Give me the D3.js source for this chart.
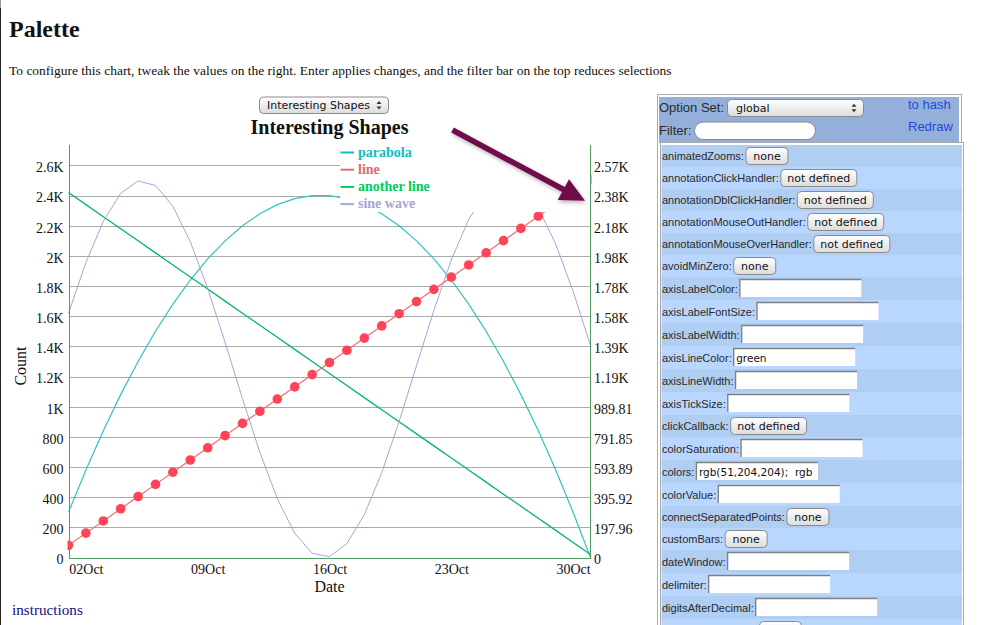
<!DOCTYPE html>
<html>
<head>
<meta charset="utf-8">
<script src="https://cdnjs.cloudflare.com/ajax/libs/d3/7.8.5/d3.min.js"></script>
<style>
html,body{margin:0;padding:0;background:#fff;overflow:hidden;width:984px;height:625px}
svg{display:block}
text{font-family:"Liberation Serif",serif;fill:#111}
.axis path,.axis line{shape-rendering:crispEdges}
.sans{font-family:"Liberation Sans",sans-serif;fill:#2a2a2a}
.ui{font-family:"DejaVu Sans",sans-serif;fill:#111;font-size:11px}
</style>
</head>
<body>
<svg id="chart" width="984" height="625"></svg>
<script>
const dates = ["2006-10-01","2006-10-02","2006-10-03","2006-10-04","2006-10-05","2006-10-06","2006-10-07","2006-10-08","2006-10-09","2006-10-10","2006-10-11","2006-10-12","2006-10-13","2006-10-14","2006-10-15","2006-10-16","2006-10-17","2006-10-18","2006-10-19","2006-10-20","2006-10-21","2006-10-22","2006-10-23","2006-10-24","2006-10-25","2006-10-26","2006-10-27","2006-10-28","2006-10-29","2006-10-30","2006-10-31"];
const parabola = [300,580,840,1080,1300,1500,1680,1840,1980,2100,2200,2280,2340,2380,2400,2400,2380,2340,2280,2200,2100,1980,1840,1680,1500,1300,1080,840,580,300,0];
const lineSeries = [80,160,240,320,400,480,560,640,720,800,880,960,1040,1120,1200,1280,1360,1440,1520,1600,1680,1760,1840,1920,2000,2080,2160,2240,2320,2400,2480];
const anotherLine = [2420,2340,2260,2180,2100,2020,1940,1860,1780,1700,1620,1540,1460,1380,1300,1220,1140,1060,980,900,820,740,660,580,500,420,340,260,180,100,20];
const sineWave = [1619,1956,2229,2415,2497,2467,2329,2094,1784,1426,1053,697,390,161,28,5,93,284,562,901,1271,1639,1973,2242,2422,2498,2462,2318,2079,1765,1406];
const seriesNames = ["parabola","line","another line","sine wave"];
const leftTicks = [0,200,400,600,800,1000,1200,1400,1600,1800,2000,2200,2400,2600];
const leftTickLabels = ["0","200","400","600","800","1K","1.2K","1.4K","1.6K","1.8K","2K","2.2K","2.4K","2.6K"];
const rightTicks = [0,197.96,395.92,593.89,791.85,989.81,1187.77,1385.74,1583.7,1781.66,1979.62,2177.59,2375.55,2573.51];
const rightTickLabels = ["0","197.96","395.92","593.89","791.85","989.81","1.19K","1.39K","1.58K","1.78K","1.98K","2.18K","2.38K","2.57K"];
const xTicks = ["2006-10-02","2006-10-09","2006-10-16","2006-10-23","2006-10-30"];
const xTickLabels = ["02Oct","09Oct","16Oct","23Oct","30Oct"];
const optionNames = ["animatedZooms","annotationClickHandler","annotationDblClickHandler","annotationMouseOutHandler","annotationMouseOverHandler","avoidMinZero","axisLabelColor","axisLabelFontSize","axisLabelWidth","axisLineColor","axisLineWidth","axisTickSize","clickCallback","colorSaturation","colors","colorValue","connectSeparatedPoints","customBars","dateWindow","delimiter","digitsAfterDecimal","displayAnnotations"];
const optionKinds = ["b","b","b","b","b","b","i","i","i","i","i","i","b","i","i","i","b","b","i","i","i","b"];
const optionValues = ["none","not defined","not defined","not defined","not defined","none","","","","green","","","not defined","","rgb(51,204,204);  rgb","","none","none","","","","none"];

const colors = {parabola:"#2fc4c0", line:"#fb6a72", dot:"#ff4458", another:"#00b868", sine:"#a5a5d6"};
const legendColors = ["#10bcc0","#e46a70","#00cc60","#a6a6d8"];
const parseDate = d3.utcParse("%Y-%m-%d");

const L=68.5,R=590.5,T=144,B=557.5;
const x = d3.scaleUtc().domain([parseDate(dates[0]),parseDate(dates[dates.length-1])]).range([L,R]);
const y = d3.scaleLinear().domain([0,2742]).range([B,T]);
const y2 = d3.scaleLinear().domain([0,2714]).range([B,T]);

const svg = d3.select("#chart");
const defs = svg.append("defs");
defs.append("clipPath").attr("id","plotclip").append("rect").attr("x",67.5).attr("y",T).attr("width",524).attr("height",B-T+1);
const f = defs.append("filter").attr("id","shadow").attr("x","-20%").attr("y","-20%").attr("width","150%").attr("height","150%");
f.append("feDropShadow").attr("dx",1).attr("dy",2).attr("stdDeviation",2).attr("flood-color","#000").attr("flood-opacity",0.3);
const bg = defs.append("linearGradient").attr("id","btn").attr("x1",0).attr("y1",0).attr("x2",0).attr("y2",1);
bg.append("stop").attr("offset",0).attr("stop-color","#ffffff");
bg.append("stop").attr("offset",1).attr("stop-color","#dcdcdc");

// page
svg.append("line").attr("x1",0.5).attr("x2",0.5).attr("y1",0).attr("y2",8).attr("stroke","#999");
svg.append("line").attr("x1",0.5).attr("x2",0.5).attr("y1",8).attr("y2",625).attr("stroke","#222");
svg.append("text").attr("x",9).attr("y",37).attr("font-size",24).attr("font-weight","bold").attr("fill","#000").text("Palette");
svg.append("text").attr("x",9).attr("y",75).attr("font-size",13.47).text("To configure this chart, tweak the values on the right. Enter applies changes, and the filter bar on the top reduces selections");
svg.append("text").attr("x",12).attr("y",615).attr("font-size",15.2).style("fill","#101080").text("instructions");

function selectBox(g,x0,y0,w,h,label,tx){
  g.append("rect").attr("x",x0+.5).attr("y",y0+.5).attr("width",w).attr("height",h).attr("rx",4).attr("fill","url(#btn)").attr("stroke","#8a8a8a");
  g.append("text").attr("class","ui").attr("x",x0+tx).attr("y",y0+h/2+4.5).text(label);
  const ax=x0+w-9, ay=y0+h/2+.5;
  g.append("path").attr("d",`M${ax-2.5},${ay-1.2}L${ax},${ay-4.2}L${ax+2.5},${ay-1.2}ZM${ax-2.5},${ay+1.2}L${ax},${ay+4.2}L${ax+2.5},${ay+1.2}Z`).attr("fill","#333");
}
selectBox(svg,259,96.5,129,16.5,"Interesting Shapes",8);
svg.append("text").attr("x",329.5).attr("y",134).attr("text-anchor","middle").attr("font-size",20).attr("font-weight","bold").attr("fill","#000").text("Interesting Shapes");

// grid
const grid = svg.append("g").attr("class","axis").attr("transform",`translate(${L},0)`)
  .call(d3.axisRight(y).tickValues(leftTicks.slice(1)).tickSize(R-L).tickFormat(""));
grid.select(".domain").remove();
grid.selectAll("line").attr("stroke","#aaaaaa");

// series
const marks = svg.append("g").attr("clip-path","url(#plotclip)");
const pts = dates.map(parseDate);
const lineGen = sc => d3.line().x((d,i)=>x(pts[i])).y(d=>sc(d));
marks.append("path").datum(parabola).attr("d",lineGen(y)).attr("fill","none").attr("stroke",colors.parabola).attr("stroke-width",1.2);
marks.append("path").datum(anotherLine).attr("d",lineGen(y)).attr("fill","none").attr("stroke",colors.another).attr("stroke-width",1.3);
marks.append("path").datum(sineWave).attr("d",lineGen(y)).attr("fill","none").attr("stroke",colors.sine).attr("stroke-width",1);
marks.append("path").datum(lineSeries).attr("d",lineGen(y2)).attr("fill","none").attr("stroke",colors.line).attr("stroke-width",1.2);
marks.selectAll("circle").data(lineSeries).join("circle").attr("cx",(d,i)=>x(pts[i])).attr("cy",d=>y2(d)).attr("r",4.8).attr("fill",colors.dot);

// legend
const lg = svg.append("g");
lg.append("rect").attr("x",340).attr("y",144).attr("width",250).attr("height",68).attr("fill","#fff");
seriesNames.forEach((n,i)=>{
  const yy=152.5+i*17.2;
  lg.append("line").attr("x1",340.5).attr("x2",354).attr("y1",yy).attr("y2",yy).attr("stroke",legendColors[i]).attr("stroke-width",2);
  lg.append("text").attr("x",358).attr("y",yy+4).attr("font-size",14).attr("font-weight","bold").style("fill",legendColors[i]).text(n);
});

// axes
const axL = svg.append("g").attr("class","axis").attr("transform",`translate(${L},0)`)
  .call(d3.axisLeft(y).tickValues(leftTicks).tickSize(0).tickPadding(5).tickFormat((d,i)=>leftTickLabels[i]));
const axR = svg.append("g").attr("class","axis").attr("transform",`translate(${R-.5},0)`)
  .call(d3.axisRight(y2).tickValues(rightTicks).tickSize(0).tickPadding(4).tickFormat((d,i)=>rightTickLabels[i]));
const axB = svg.append("g").attr("class","axis").attr("transform",`translate(0,${B})`)
  .call(d3.axisBottom(x).tickValues(xTicks.map(parseDate)).tickSize(0).tickPadding(7).tickFormat((d,i)=>xTickLabels[i]));
[axL,axR,axB].forEach(a=>{
  a.select(".domain").attr("stroke","#4f9d62").attr("stroke-width",1).attr("fill","none");
  a.selectAll("text").attr("font-family","Liberation Serif").attr("font-size",14).attr("fill","#111");
});
axL.selectAll("text").attr("dy","0.45em");
axR.selectAll("text").attr("dy","0.45em");
svg.append("text").attr("x",329.5).attr("y",592).attr("text-anchor","middle").attr("font-size",16).text("Date");
svg.append("text").attr("transform","translate(26,366) rotate(-90)").attr("text-anchor","middle").attr("font-size",16).text("Count");

// arrow
const ar = svg.append("g").attr("filter","url(#shadow)");
ar.append("path").attr("d","M452.5,130L570,193").attr("stroke","#6e0a4a").attr("stroke-width",5.5).attr("fill","none");
ar.append("path").attr("d","M585,200.7L557.7,200L569,179.3Z").attr("fill","#6e0a4a");

// option panel
const p = svg.append("g");
p.append("rect").attr("x",657.5).attr("y",94.5).attr("width",304).attr("height",560).attr("fill","#fff").attr("stroke","#aaa");
p.append("rect").attr("x",659).attr("y",97).attr("width",300).attr("height",46).attr("fill","#94b0da");
p.append("text").attr("class","sans").attr("x",659).attr("y",112).attr("font-size",13).text("Option Set:");
p.append("text").attr("class","sans").attr("x",659).attr("y",135).attr("font-size",13).text("Filter:");
selectBox(p,727,99,136,17,"global",9);
p.append("rect").attr("x",694.5).attr("y",122).attr("width",121).attr("height",17.5).attr("rx",8.7).attr("fill","#fff").attr("stroke","#888");
p.append("text").attr("class","sans").attr("x",908).attr("y",109).attr("font-size",13).style("fill","#2448d8").text("to hash");
p.append("text").attr("class","sans").attr("x",908).attr("y",131).attr("font-size",13).style("fill","#2448d8").text("Redraw");
p.append("rect").attr("x",660.5).attr("y",142.5).attr("width",303).attr("height",520).attr("fill","#fff").attr("stroke","#aaa");

let rowTop = 145;
optionNames.forEach((name,i)=>{
  const kind = optionKinds[i], h = kind==="b"?22:23;
  const last = i===optionNames.length-1;
  const g = p.append("g").attr("transform",`translate(0,${rowTop})`);
  g.append("rect").attr("x",661.5).attr("y",0).attr("width",300.5).attr("height",h).attr("fill",i%2===0?"#b0cdf2":"#b9d6ff");
  const t = g.append("text").attr("class","sans").attr("x",662).attr("y",h/2+4).attr("font-size",11).text(name+":");
  const cx = 662 + t.node().getComputedTextLength() + 1.5;
  if(last) t.remove();   // this row is below the fold: only the top of its button shows
  if(kind==="b"){
    const w = optionValues[i]==="none"?42:76;
    g.append("rect").attr("x",cx+.5).attr("y",2.5).attr("width",w).attr("height",17).attr("rx",4).attr("fill","url(#btn)").attr("stroke","#8a8a8a");
    if(!last) g.append("text").attr("class","ui").attr("x",cx+w/2+.5).attr("y",15).attr("text-anchor","middle").text(optionValues[i]);
  } else {
    g.append("rect").attr("x",cx).attr("y",2).attr("width",122).attr("height",18).attr("fill","#fff");
    g.append("path").attr("d",`M${cx+.5},20V2.5H${cx+122}`).attr("fill","none").attr("stroke","#808080").attr("stroke-width",1.4);
    g.append("text").attr("class","ui").attr("x",cx+3).attr("y",15.5).style("font-size","10.5px").style("white-space","pre").text(optionValues[i]);
  }
  rowTop += h;
});
</script>
</body>
</html>
